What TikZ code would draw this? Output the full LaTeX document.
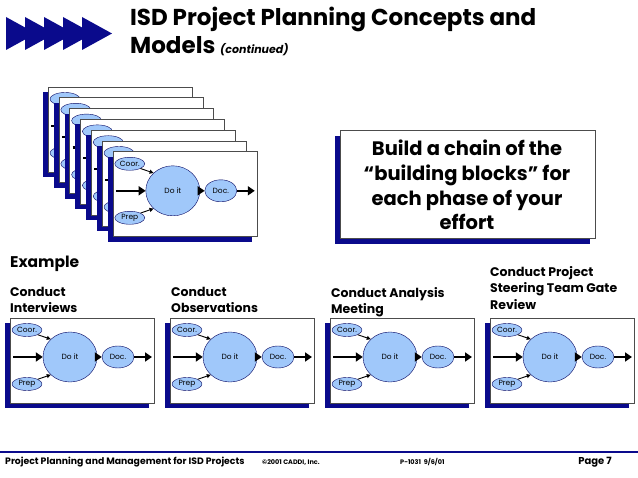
\documentclass[tikz,border=0pt]{standalone}
\usepackage{fontspec}
\setmainfont{Poppins}
\usetikzlibrary{arrows.meta,shapes.geometric}
\definecolor{navy}{RGB}{10,10,140}
\definecolor{lblue}{RGB}{160,200,250}
\tikzset{
  frame/.style={draw=black!70,fill=white,line width=0.6pt},
  shadowr/.style={fill=navy},
  oval/.style={ellipse,draw=navy!70!black,fill=lblue,inner sep=0pt,font=\fontsize{7.5}{8}\selectfont},
  bigar/.style={-{Triangle[length=7pt,width=9pt]},line width=2.2pt},
  smar/.style={-{Triangle[length=4pt,width=4pt]},line width=0.9pt},
  lbl/.style={anchor=north west,align=left,font=\bfseries\fontsize{12.5}{16.5}\selectfont,inner sep=0pt},
}
\newif\ifshowtxt
\newcommand\blockpic[3]{%
 \begin{scope}[shift={(#2,#3)}]
  \fill[shadowr] (-5,5) rectangle (139,90);
  \draw[frame] (0,0) rectangle (144,85);
  \node[oval,minimum width=30,minimum height=13] (#1c) at (17,12) {\ifshowtxt Coor.\fi};
  \node[oval,minimum width=30,minimum height=13] (#1p) at (17,66) {\ifshowtxt Prep\fi};
  \node[oval,minimum width=54,minimum height=50] (#1d) at (60,39) {\ifshowtxt Do it\fi};
  \node[oval,minimum width=32,minimum height=22] (#1o) at (108,39) {\ifshowtxt Doc.\fi};
  \coordinate (#1i) at (3,39);
  \coordinate (#1e) at (142,39);
  \draw[bigar] (#1i) -- (#1d);
  \draw[bigar] (#1d) -- (#1o);
  \draw[bigar] (#1o) -- (#1e);
  \draw[smar] (#1c.south east) -- (#1d.north west);
  \draw[smar] (#1p.north east) -- (#1d.south west);
 \end{scope}}
\begin{document}
\begin{tikzpicture}[x=1pt,y=-1pt]
\useasboundingbox (0,0) rectangle (638,478);
\fill[white] (0,0) rectangle (638,478);
% logo
\foreach \i in {0,...,4}
  \fill[navy] (6+19*\i,17) -- (6+19*\i+30,33.5) -- (6+19*\i,50) -- cycle;
\node[anchor=north west,inner sep=0pt,font=\bfseries\fontsize{23}{28}\selectfont,align=left] (title) at (130,7)
  {ISD Project Planning Concepts and\\Models {\itshape\fontsize{11}{12}\selectfont (continued)}};
% stack
\showtxtfalse
\foreach \k in {0,...,5}{
  \blockpic{s\k}{48+10.8*\k}{87+10.8*\k}
}
\showtxttrue
\blockpic{s6}{112.8}{151.8}
% callout
\fill[shadowr] (335,136) rectangle (590,244);
\draw[frame] (340,130) rectangle (595,238);
\node[align=center,font=\bfseries\fontsize{19.5}{24.7}\selectfont,inner sep=0pt] (call) at (467,185)
  {Build a chain of the\\“building blocks” for\\each phase of your\\effort};
\node[lbl,font=\bfseries\fontsize{15.5}{18}\selectfont] (ex) at (10,256) {Example};
\node[lbl] (l1) at (10,287) {Conduct\\Interviews};
\node[lbl] (l2) at (171,287) {Conduct\\Observations};
\node[lbl] (l3) at (331,287) {Conduct Analysis\\Meeting};
\node[lbl] (l4) at (490,266) {Conduct Project\\Steering Team Gate\\Review};
\blockpic{a}{10}{318}
\blockpic{b}{170}{318}
\blockpic{c}{330}{318}
\blockpic{d}{490}{318}
% footer
\draw[navy,line width=1.2pt] (0,452) -- (638,452);
\node[anchor=west,inner sep=0pt,font=\bfseries\fontsize{9.3}{10}\selectfont] (f1) at (5,462) {Project Planning and Management for ISD Projects};
\node[anchor=west,inner sep=0pt,font=\bfseries\fontsize{6.5}{7}\selectfont] (f2) at (262,462) {©2001 CADDI, Inc.};
\node[anchor=west,inner sep=0pt,font=\bfseries\fontsize{6.5}{7}\selectfont] (f3) at (400,462) {P-1031\ \ 9/6/01};
\node[anchor=east,inner sep=0pt,font=\bfseries\fontsize{10}{10}\selectfont] (f4) at (612,462) {Page 7};
\end{tikzpicture}
\end{document}
